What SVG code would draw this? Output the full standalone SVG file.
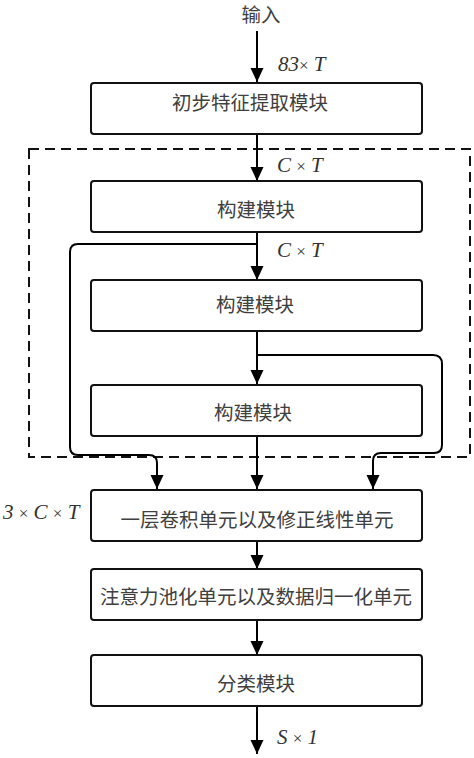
<svg xmlns="http://www.w3.org/2000/svg" width="474" height="758" viewBox="0 0 474 758">
<defs>
<marker id="arr" markerUnits="userSpaceOnUse" markerWidth="14" markerHeight="14" viewBox="0 0 14 14" refX="14" refY="7" orient="auto">
<path d="M0,0.5 L14,7 L0,13.5 z" fill="#000"/>
</marker>
<style>
.box{fill:#fff;stroke:#111;stroke-width:2}
.cn{font-family:"Noto Sans CJK SC","Noto Sans CJK JP",sans-serif;font-size:19.5px;fill:#404040;text-anchor:middle;dominant-baseline:central}
.math{font-family:"Liberation Serif","Times New Roman",serif;font-style:italic;font-size:21px;fill:#333}
.x{font-style:normal;font-size:17px}
.ln{fill:none;stroke:#000;stroke-width:2}
.dash{fill:none;stroke:#111;stroke-width:2;stroke-dasharray:10 6}
</style>
</defs>
<rect width="474" height="758" fill="#fff"/>
<rect class="dash" x="29" y="149" width="441" height="308"/>
<g id="connectors">
<path class="ln" d="M257,31 L257,82" marker-end="url(#arr)"/>
<path class="ln" d="M257,134 L257,181" marker-end="url(#arr)"/>
<path class="ln" d="M257,232 L257,280" marker-end="url(#arr)"/>
<path class="ln" d="M257,244 L78,244 Q70,244 70,252 L70,447 Q70,455 78,455 L149,455 Q157,455 157,463 L157,489" marker-end="url(#arr)"/>
<path class="ln" d="M257,331 L257,384" marker-end="url(#arr)"/>
<path class="ln" d="M257,355 L433,355 Q442,355 442,364 L442,445 Q442,453 434,453 L381,453 Q373,453 373,461 L373,489" marker-end="url(#arr)"/>
<path class="ln" d="M257,436 L257,489" marker-end="url(#arr)"/>
<path class="ln" d="M257,541 L257,569" marker-end="url(#arr)"/>
<path class="ln" d="M257,620 L257,655" marker-end="url(#arr)"/>
<path class="ln" d="M257,706 L257,754" marker-end="url(#arr)"/>
</g>
<g id="labels">
<text class="cn" x="261" y="13">输入</text>
<text class="math" x="278" y="71">83<tspan class="x">×</tspan> T</text>
<text class="math" x="277" y="172">C <tspan class="x">×</tspan> T</text>
<text class="math" x="277" y="257">C <tspan class="x">×</tspan> T</text>
<text class="math" x="3" y="519">3 <tspan class="x">×</tspan> C <tspan class="x">×</tspan> T</text>
<text class="math" x="277" y="744">S <tspan class="x">×</tspan> 1</text>
</g>
<g id="n1"><rect class="box" x="91" y="83" width="331" height="51" rx="3"/><text class="cn" x="250" y="101">初步特征提取模块</text></g>
<g id="n2"><rect class="box" x="91" y="181" width="331" height="51" rx="3"/><text class="cn" x="256" y="208">构建模块</text></g>
<g id="n3"><rect class="box" x="91" y="280" width="331" height="51" rx="3"/><text class="cn" x="255" y="303">构建模块</text></g>
<g id="n4"><rect class="box" x="91" y="385" width="331" height="51" rx="3"/><text class="cn" x="253" y="411">构建模块</text></g>
<g id="n5"><rect class="box" x="91" y="490" width="331" height="51" rx="3"/><text class="cn" x="257" y="518">一层卷积单元以及修正线性单元</text></g>
<g id="n6"><rect class="box" x="91" y="569" width="331" height="51" rx="3"/><text class="cn" x="256" y="595">注意力池化单元以及数据归一化单元</text></g>
<g id="n7"><rect class="box" x="91" y="655" width="331" height="51" rx="3"/><text class="cn" x="256" y="682">分类模块</text></g>
</svg>
